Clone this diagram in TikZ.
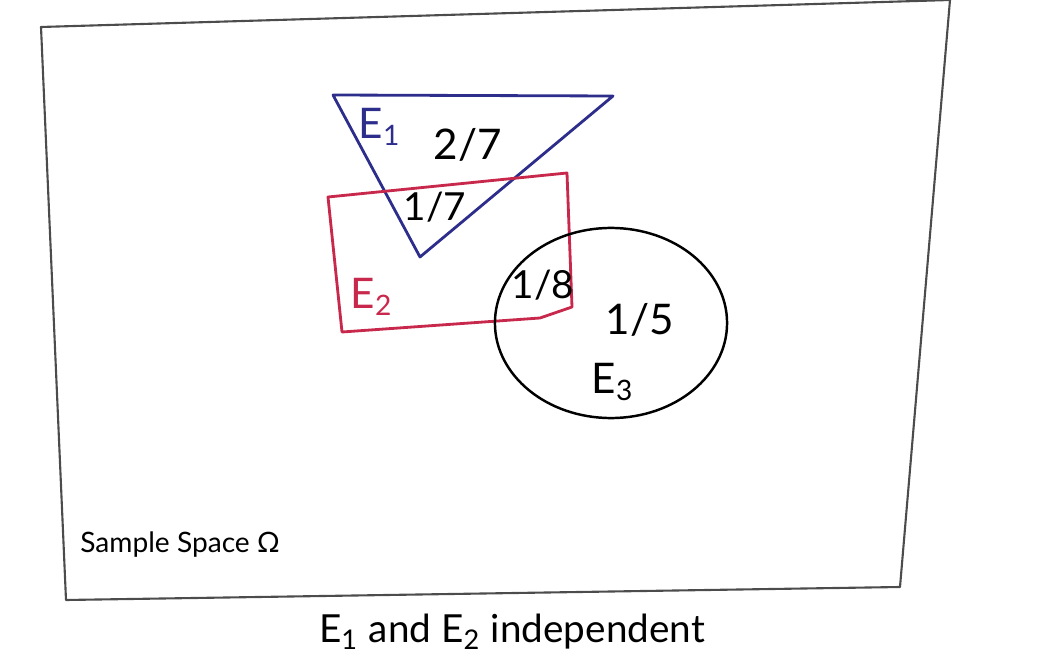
\documentclass[tikz,border=0pt]{standalone}
\usepackage{fontspec}
\setmainfont{Lato}
\definecolor{triblue}{RGB}{45,45,140}
\definecolor{boxred}{RGB}{200,40,75}
\begin{document}
\begin{tikzpicture}[x=0.01cm, y=-0.01cm, line join=round, line cap=round,
        every node/.style={font=\fontsize{12}{14}\selectfont}]
        \useasboundingbox (0,0) rectangle (1039,664);
        %draw sample space
        \draw[line width=0.6pt, black!70] (41,27) -- (950,0) -- (900,587) -- (66,600) -- cycle;
        
        % draw events
        \draw[triblue, line width=0.8pt] (333,95) -- (613,96) -- (420,257) -- cycle;
        \draw[boxred, line width=0.8pt] (328,197) -- (567,173) -- (572,307) -- (540,318) -- (342,332) -- cycle;
        \draw[line width=0.7pt] (611,323) ellipse [x radius=1.16cm, y radius=0.95cm];
        
        % labels
        \node[text=triblue] (e1) at (380,127) {E\textsubscript{1}};
        \node[text=boxred] (e2) at (372,297) {E\textsubscript{2}};
        \node (e3) at (613,382) {E\textsubscript{3}};
        \node (p1) at (468,145) {2/7};
        \node[font=\fontsize{11}{13}\selectfont] (p12) at (435,207) {1/7};
        \node[font=\fontsize{11}{13}\selectfont] (p23) at (543,285) {1/8};
        \node (p3) at (640,320) {1/5};
        \node[font=\fontsize{8}{10}\selectfont] (om) at (180,545) {Sample Space Ω};
        \node[font=\fontsize{11}{13}\selectfont] (cap) at (512,632) {E\textsubscript{1} and E\textsubscript{2} independent};
    \end{tikzpicture}
\end{document}
